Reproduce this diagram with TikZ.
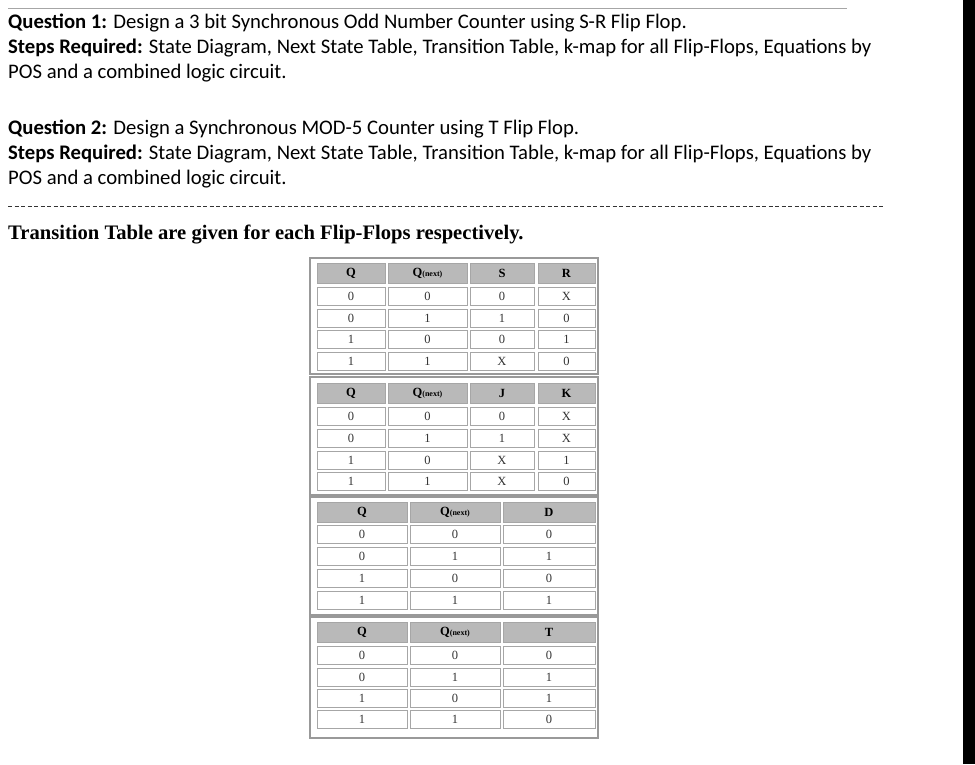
\documentclass[tikz,border=0pt]{standalone}
\usepackage{fontspec}
\setmainfont{Carlito}
\newfontfamily\tnr{Liberation Serif}
\begin{document}
\begin{tikzpicture}[x=1pt,y=-1pt,
  qtext/.style={anchor=base west,inner sep=0pt,font=\fontsize{20.7}{24}\selectfont},
  cellbox/.style={draw=gray!70,line width=1pt,inner sep=0pt,font=\tnr\fontsize{12.5}{13}\selectfont,text=black!80},
  headbox/.style={cellbox,fill=gray!55,font=\tnr\bfseries\fontsize{12.5}{13}\selectfont,text=black},
  frame/.style={draw=gray!80,line width=1.5pt}]
\useasboundingbox (0,0) rectangle (975,764);
\fill[black] (963,0) rectangle (975,764);
\draw[gray!70,line width=0.8pt] (8,8) -- (847,8);
\node[qtext] (q1) at (8,28) {\textbf{Question 1:} Design a 3 bit Synchronous Odd Number Counter using S-R Flip Flop.};
\node[qtext] (s1) at (8,53) {\textbf{Steps Required:} State Diagram, Next State Table, Transition Table, k-map for all Flip-Flops, Equations by};
\node[qtext] (p1) at (8,78) {POS and a combined logic circuit.};
\node[qtext] (q2) at (8,134) {\textbf{Question 2:} Design a Synchronous MOD-5 Counter using T Flip Flop.};
\node[qtext] (s2) at (8,159) {\textbf{Steps Required:} State Diagram, Next State Table, Transition Table, k-map for all Flip-Flops, Equations by};
\node[qtext] (p2) at (8,184) {POS and a combined logic circuit.};
\draw[black!80,dash pattern=on 4pt off 2.5pt,line width=0.8pt] (8,206) -- (883,206);
\node[anchor=base west,inner sep=0pt,font=\tnr\bfseries\fontsize{20.6}{24}\selectfont] (tt) at (8,239) {Transition Table are given for each Flip-Flops respectively.};
% frames
\draw[frame] (310,258) rectangle (598,374);
\draw[frame] (310,377) rectangle (598,495);
\draw[frame] (310,497) rectangle (598,615);
\draw[frame] (310,617) rectangle (598,738);
\newcommand\nx{Q{\fontsize{8}{9}\selectfont(next)}}
% four-column tables
\foreach \yy/\hA/\hB/\hC/\hD [count=\t] in {273/Q/\nx/S/R, 393/Q/\nx/J/K}{
  \node[headbox,minimum width=68,minimum height=20] (h\t a) at (351,\yy) {\hA};
  \node[headbox,minimum width=79,minimum height=20] (h\t b) at (427.5,\yy) {\hB};
  \node[headbox,minimum width=64,minimum height=20] (h\t c) at (502,\yy) {\hC};
  \node[headbox,minimum width=57,minimum height=20] (h\t d) at (566.5,\yy) {\hD};
}
\foreach \yy/\a/\b/\c/\d [count=\r] in {296/0/0/0/X,318/0/1/1/0,339.5/1/0/0/1,361/1/1/X/0,
  416/0/0/0/X,438/0/1/1/X,460/1/0/X/1,481/1/1/X/0}{
  \node[cellbox,minimum width=68,minimum height=18] (r\r a) at (351,\yy) {\a};
  \node[cellbox,minimum width=79,minimum height=18] (r\r b) at (427.5,\yy) {\b};
  \node[cellbox,minimum width=64,minimum height=18] (r\r c) at (502,\yy) {\c};
  \node[cellbox,minimum width=57,minimum height=18] (r\r d) at (566.5,\yy) {\d};
}
% three-column tables
\foreach \yy/\hC [count=\t] in {512/D, 632/T}{
  \node[headbox,minimum width=90,minimum height=20] (g\t a) at (362,\yy) {Q};
  \node[headbox,minimum width=90,minimum height=20] (g\t b) at (455,\yy) {\nx};
  \node[headbox,minimum width=92,minimum height=20] (g\t c) at (549,\yy) {\hC};
}
\foreach \yy/\a/\b/\c [count=\r] in {534/0/0/0,556/0/1/1,578/1/0/0,600/1/1/1,
  655/0/0/0,677/0/1/1,698/1/0/1,719/1/1/0}{
  \node[cellbox,minimum width=90,minimum height=18] (s\r a) at (362,\yy) {\a};
  \node[cellbox,minimum width=90,minimum height=18] (s\r b) at (455,\yy) {\b};
  \node[cellbox,minimum width=92,minimum height=18] (s\r c) at (549,\yy) {\c};
}
\end{tikzpicture}
\end{document}
